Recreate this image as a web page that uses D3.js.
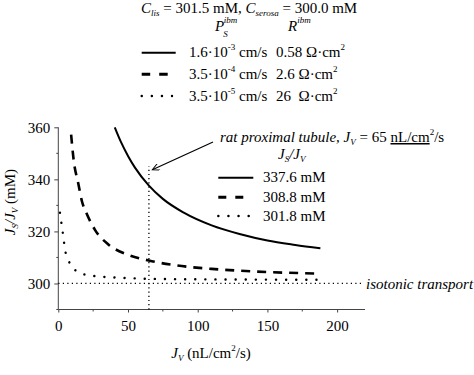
<!DOCTYPE html>
<html>
<head>
<meta charset="utf-8">
<script src="https://cdn.jsdelivr.net/npm/d3@7"></script>
<style>
  body { margin: 0; background: #fff; }
  svg { display: block; font-family: "Liberation Serif", "Times New Roman", serif; }
  .it { font-style: italic; }
</style>
</head>
<body>
<svg id="chart" width="474" height="375"></svg>
<script>
(function () {
  'use strict';

  // J_V (nL/cm2/s) and J_S/J_V (mM)
  var jvSolid = [40.5, 45, 50, 55, 65, 75, 90, 110, 130, 150, 170, 188];
  var jsSolid = [360, 354.3, 349, 344.5, 337.6, 332.5, 327.2, 322.3, 319, 316.5, 314.8, 313.5];

  var jvDashed = [9.2, 11, 14.3, 17, 20.4, 26.3, 35.9, 49, 65, 84, 110, 130, 154, 188];
  var jsDashed = [357.2, 347.5, 338.5, 331.5, 326.8, 320.6, 315, 311.2, 308.8, 307, 305.6, 304.9, 304.3, 303.8];

  var jvDotted = [1.2, 2.4, 3.6, 4.8, 6.5, 8.4, 10.5, 13.2, 16, 20.4, 28.7, 40, 65, 100, 140, 188];
  var jsDotted = [327.2, 322.5, 318, 313, 310, 307.6, 306, 304.7, 303.9, 303.3, 302.7, 302.3, 301.8, 301.6, 301.5, 301.4];

  var xTicks = [0, 50, 100, 150, 200];
  var xMinor = [25, 75, 125, 175];
  var yTicks = [300, 320, 340, 360];
  var yMinor = [290, 310, 330, 350];

  var permLabels = ['1.6·10', '3.5·10', '3.5·10'];
  var permExp = ['-3', '-4', '-5'];
  var resLabels = ['0.58 Ω·cm', '2.6 Ω·cm', '26  Ω·cm'];
  var ratioLabels = ['337.6 mM', '308.8 mM', '301.8 mM'];

  var isotonic = 300;
  var ratJv = 65;
  var ratTop = 345;

  var styles = [
    { width: 2, dash: null, cap: 'butt' },
    { width: 2.6, dash: '9,7', cap: 'butt' },
    { width: 2.4, dash: '0.1,10', cap: 'round' }
  ];

  var svg = d3.select('#chart');
  var x = d3.scaleLinear().domain([0, 220]).range([58.3, 365]);
  var y = d3.scaleLinear().domain([290, 360]).range([309.5, 127.3]);

  // axes
  var axisColor = '#444';
  var xAxis = d3.axisBottom(x).tickValues(xTicks).tickSize(3).tickPadding(8).tickFormat(d3.format('d'));
  var gx = svg.append('g').attr('transform', 'translate(0,' + y(290) + ')').call(xAxis);
  gx.select('.domain').attr('stroke', axisColor).attr('d', 'M' + x(0) + ',0H' + x(220));
  gx.selectAll('.tick line').attr('stroke', axisColor);
  gx.selectAll('.tick text').attr('font-size', 15).attr('fill', '#000').attr('font-family', 'Liberation Serif');
  gx.selectAll('.minor').data(xMinor).enter().append('line')
    .attr('x1', function (d) { return x(d); }).attr('x2', function (d) { return x(d); })
    .attr('y1', 0).attr('y2', 2).attr('stroke', axisColor);

  var yAxis = d3.axisLeft(y).tickValues(yTicks).tickSize(4).tickPadding(4);
  var gy = svg.append('g').attr('transform', 'translate(' + x(0) + ',0)').call(yAxis);
  gy.select('.domain').attr('stroke', axisColor).attr('d', 'M0,' + y(360) + 'V' + y(290));
  gy.selectAll('.tick line').attr('stroke', axisColor);
  gy.selectAll('.tick text').attr('font-size', 15).attr('fill', '#000').attr('font-family', 'Liberation Serif');
  gy.selectAll('.minor').data(yMinor).enter().append('line')
    .attr('y1', function (d) { return y(d); }).attr('y2', function (d) { return y(d); })
    .attr('x1', 0).attr('x2', -2).attr('stroke', axisColor);

  // reference lines
  svg.append('line')
    .attr('x1', x(0)).attr('x2', x(218.5)).attr('y1', y(isotonic)).attr('y2', y(isotonic))
    .attr('stroke', '#000').attr('stroke-width', 1.2).attr('stroke-dasharray', '1.2,3.3');
  svg.append('line')
    .attr('x1', x(ratJv)).attr('x2', x(ratJv)).attr('y1', y(290)).attr('y2', y(ratTop))
    .attr('stroke', '#000').attr('stroke-width', 1.3).attr('stroke-dasharray', '1.2,3');

  // curves
  var series = [
    d3.zip(jvSolid, jsSolid),
    d3.zip(jvDashed, jsDashed),
    d3.zip(jvDotted, jsDotted)
  ];
  var line = d3.line()
    .x(function (d) { return x(d[0]); })
    .y(function (d) { return y(d[1]); })
    .curve(d3.curveMonotoneX);

  svg.selectAll('.curve').data(series).enter().append('path')
    .attr('class', 'curve')
    .attr('d', line)
    .attr('fill', 'none')
    .attr('stroke', '#000')
    .attr('stroke-width', function (d, i) { return styles[i].width; })
    .attr('stroke-dasharray', function (d, i) { return styles[i].dash; })
    .attr('stroke-linecap', function (d, i) { return styles[i].cap; });

  // arrow
  svg.append('defs').append('marker')
    .attr('id', 'arrow').attr('viewBox', '0 0 10 10').attr('refX', 9).attr('refY', 5)
    .attr('markerWidth', 9).attr('markerHeight', 7).attr('markerUnits', 'userSpaceOnUse')
    .attr('orient', 'auto')
    .append('path').attr('d', 'M0,0L10,5L0,10').attr('fill', 'none').attr('stroke', '#000').attr('stroke-width', 1.4);
  svg.append('line')
    .attr('x1', 213).attr('y1', 142).attr('x2', x(ratJv) + 4).attr('y2', 169.5)
    .attr('stroke', '#000').attr('stroke-width', 1.2).attr('marker-end', 'url(#arrow)');

  // texts
  function addText(xp, yp, opts) {
    var t = svg.append('text').attr('x', xp).attr('y', yp).attr('font-size', opts.size || 15);
    if (opts.anchor) t.attr('text-anchor', opts.anchor);
    return t;
  }

  // title
  var t = addText(141, 12.5, {});
  t.append('tspan').attr('class', 'it').text('C');
  t.append('tspan').attr('class', 'it').attr('font-size', 9).attr('dy', 3).text('lis');
  t.append('tspan').attr('dy', -3).text(' = 301.5 mM, ');
  t.append('tspan').attr('class', 'it').text('C');
  t.append('tspan').attr('class', 'it').attr('font-size', 9).attr('dy', 3).text('serosa');
  t.append('tspan').attr('dy', -3).text(' = 300.0 mM');

  // legend header
  t = addText(215, 31, {});
  t.append('tspan').attr('class', 'it').text('P');
  t.append('tspan').attr('class', 'it').attr('font-size', 9).attr('dy', 6).attr('dx', -1).text('S');
  t.append('tspan').attr('class', 'it').attr('font-size', 9).attr('dy', -14).attr('dx', -4).text('ibm');
  t = addText(288, 31, {});
  t.append('tspan').attr('class', 'it').text('R');
  t.append('tspan').attr('class', 'it').attr('font-size', 9).attr('dy', -8).text('ibm');

  var legY = [52.7, 74.3, 96];
  styles.forEach(function (s, i) {
    svg.append('line')
      .attr('x1', 141.7).attr('x2', i === 0 ? 175.7 : (i === 1 ? 167.7 : 172))
      .attr('y1', legY[i]).attr('y2', legY[i])
      .attr('stroke', '#000').attr('stroke-width', i === 1 ? 3 : s.width)
      .attr('stroke-dasharray', i === 1 ? '8.5,9' : s.dash).attr('stroke-linecap', s.cap);
    var tt = addText(189, legY[i] + 4.5, {});
    tt.append('tspan').text(permLabels[i]);
    tt.append('tspan').attr('font-size', 9).attr('dy', -7).text(permExp[i]);
    tt.append('tspan').attr('dy', 7).text(' cm/s');
    tt = addText(276, legY[i] + 4.5, {});
    tt.append('tspan').attr('xml:space', 'preserve').text(resLabels[i]);
    tt.append('tspan').attr('font-size', 9).attr('dy', -7).text('2');
  });

  // rat proximal tubule label
  t = addText(220, 142, {});
  t.append('tspan').attr('class', 'it').text('rat proximal tubule, J');
  t.append('tspan').attr('class', 'it').attr('font-size', 9).attr('dy', 3).text('V');
  t.append('tspan').attr('dy', -3).text(' = 65 ');
  t.append('tspan').attr('text-decoration', 'underline').text('nL/cm');
  t.append('tspan').attr('font-size', 9).attr('dy', -7).text('2');
  t.append('tspan').attr('dy', 7).text('/s');

  t = addText(278, 159, {});
  t.append('tspan').attr('class', 'it').text('J');
  t.append('tspan').attr('class', 'it').attr('font-size', 9).attr('dy', 3).text('S');
  t.append('tspan').attr('class', 'it').attr('dy', -3).text('/J');
  t.append('tspan').attr('class', 'it').attr('font-size', 9).attr('dy', 3).text('V');

  var leg2Y = [177.7, 197.3, 216];
  styles.forEach(function (s, i) {
    svg.append('line')
      .attr('x1', 218.3).attr('x2', i === 0 ? 253.3 : (i === 1 ? 243.5 : 250))
      .attr('y1', leg2Y[i]).attr('y2', leg2Y[i])
      .attr('stroke', '#000').attr('stroke-width', i === 1 ? 3 : s.width)
      .attr('stroke-dasharray', i === 1 ? '8,9' : s.dash).attr('stroke-linecap', s.cap);
    addText(263, leg2Y[i] + 4.5, {}).text(ratioLabels[i]);
  });

  addText(366, 289, {}).attr('class', 'it').text('isotonic transport');

  // axis titles
  t = addText(211, 358, { anchor: 'middle' });
  t.append('tspan').attr('class', 'it').text('J');
  t.append('tspan').attr('class', 'it').attr('font-size', 9).attr('dy', 3).text('V');
  t.append('tspan').attr('dy', -3).text(' (nL/cm');
  t.append('tspan').attr('font-size', 9).attr('dy', -7).text('2');
  t.append('tspan').attr('dy', 7).text('/s)');

  t = svg.append('text').attr('font-size', 15).attr('text-anchor', 'middle')
    .attr('transform', 'translate(15,202) rotate(-90)');
  t.append('tspan').attr('class', 'it').text('J');
  t.append('tspan').attr('class', 'it').attr('font-size', 9).attr('dy', 3).text('S');
  t.append('tspan').attr('class', 'it').attr('dy', -3).text('/J');
  t.append('tspan').attr('class', 'it').attr('font-size', 9).attr('dy', 3).text('V');
  t.append('tspan').attr('dy', -3).text(' (mM)');
})();
</script>
</body>
</html>
